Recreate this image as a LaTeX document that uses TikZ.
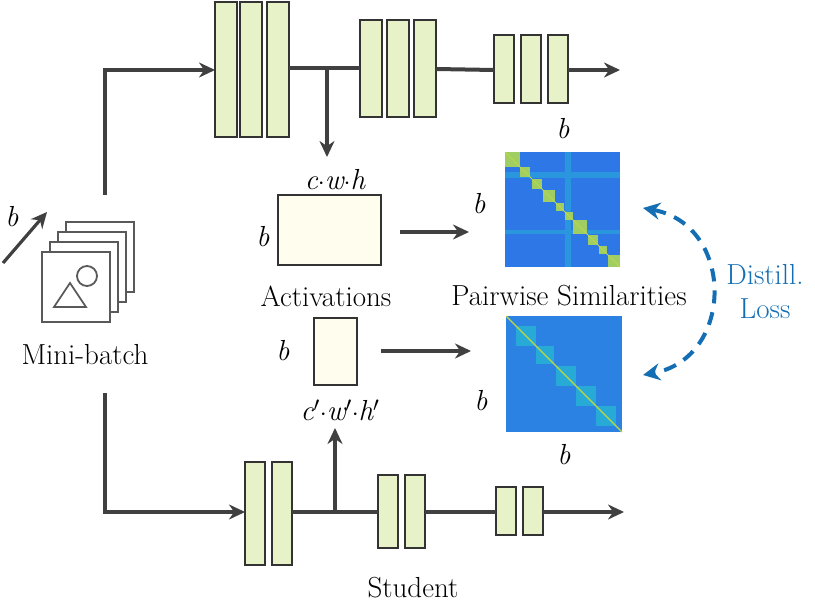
\documentclass[tikz,border=0pt]{standalone}
\usepackage{fontspec}
\usetikzlibrary{arrows.meta}
\definecolor{blk}{RGB}{232,242,200}
\definecolor{ivy}{RGB}{255,253,238}
\definecolor{hmb}{RGB}{45,120,230}
\definecolor{hmc}{RGB}{40,170,215}
\definecolor{hmy}{RGB}{190,215,70}
\definecolor{lossc}{RGB}{20,110,180}
\begin{document}
\begin{tikzpicture}[x=1pt,y=-1pt,
  flow/.style={draw=black!75,line width=4pt,-{Stealth[length=16pt,width=15pt]}},
  line/.style={draw=black!75,line width=4pt},
  layer/.style={draw=black!80,fill=blk,line width=2pt},
  act/.style={draw=black!80,fill=ivy,line width=1.6pt},
  lbl/.style={font=\fontsize{29}{34}\selectfont},
  mlbl/.style={font=\fontsize{29}{34}\selectfont\itshape},
  page/.style={draw=black!65,fill=white,line width=2pt}]
\useasboundingbox (0,0) rectangle (815,604);
% teacher
\foreach \x in {215,240,267} \draw[layer] (\x,2) rectangle ++(22,135);
\foreach \x in {360,387,414} \draw[layer] (\x,20) rectangle ++(22,97);
\foreach \x in {494,521,548} \draw[layer] (\x,35) rectangle ++(20,68);
\coordinate (t0) at (105,195); \coordinate (t1) at (105,70); \coordinate (t2) at (215,70);
\coordinate (t3) at (289,68); \coordinate (t4) at (360,68); \coordinate (tb) at (327,68);
\coordinate (t5) at (436,69); \coordinate (t6) at (494,70); \coordinate (t7) at (568,70); \coordinate (t8) at (620,70);
\draw[flow] (t0) -- (t1) -- (t2);
\draw[line] (t3) -- (t4); \draw[line] (t5) -- (t6);
\draw[flow] (t7) -- (t8);
\coordinate (tbe) at (327,157);
\draw[flow] (tb) -- (tbe);
% student
\foreach \x in {245,272} \draw[layer] (\x,462) rectangle ++(20,103);
\foreach \x in {378,405} \draw[layer] (\x,475) rectangle ++(20,73);
\foreach \x in {496,523} \draw[layer] (\x,487) rectangle ++(20,48);
\coordinate (s0) at (105,393); \coordinate (s1) at (105,512); \coordinate (s2) at (245,512);
\coordinate (s3) at (292,512); \coordinate (s4) at (378,512); \coordinate (sb) at (335,512);
\coordinate (s5) at (425,512); \coordinate (s6) at (496,512); \coordinate (s7) at (543,512); \coordinate (s8) at (624,512);
\draw[flow] (s0) -- (s1) -- (s2);
\draw[line] (s3) -- (s4); \draw[line] (s5) -- (s6);
\draw[flow] (s7) -- (s8);
\coordinate (sbe) at (335,428);
\draw[flow] (sb) -- (sbe);
% activations
\draw[act] (278,195) rectangle (381,265);
\draw[act] (314,318) rectangle (357,385);
\node[mlbl] (cwh) at (335,180) {c$\cdot$w$\cdot$h};
\node[mlbl] (ba) at (263,237) {b};
\node[lbl] (actl) at (326,296) {Activations};
\node[mlbl] (bs) at (283,351) {b};
\node[mlbl] (cwh2) at (340,410) {c$'{\cdot}$w$'{\cdot}$h$'$};
\coordinate (a1) at (400,232); \coordinate (a2) at (469,232);
\coordinate (a3) at (381,351); \coordinate (a4) at (471,351);
\draw[flow] (a1) -- (a2); \draw[flow] (a3) -- (a4);
% similarity matrices
\begin{scope}[shift={(505,152)}]
  \fill[hmb] (0,0) rectangle (115,115);
  \fill[hmc!60!hmb] (0,20) rectangle (115,26);
  \fill[hmc!60!hmb] (0,78) rectangle (115,82);
  \fill[hmc!60!hmb] (60,0) rectangle (66,115);
  \foreach \a/\s in {0/15,15/10,27/10,38/12,51/8,60/8,68/14,83/10,94/8,103/12}
    \fill[hmy!80!hmc] (\a,\a) rectangle ++(\s,\s);
  \draw[hmy,line width=1pt] (0,0) -- (115,115);
\end{scope}
\begin{scope}[shift={(506,316)}]
  \fill[hmb!80!hmc] (0,0) rectangle (116,116);
  \foreach \a/\s in {10/20,30/18,50/20,70/20,90/20}
    \fill[hmc] (\a,\a) rectangle ++(\s,\s);
  \draw[hmy,line width=1.2pt] (0,0) -- (116,116);
\end{scope}
\node[mlbl] (b1) at (563,129) {b};
\node[mlbl] (b2) at (479,204) {b};
\node[mlbl] (b3) at (481,401) {b};
\node[mlbl] (b4) at (564,455) {b};
\node[lbl] (pw) at (569,296) {Pairwise Similarities};
% distillation loss
\coordinate (l1) at (643,208); \coordinate (l2) at (643,375);
\draw[lossc,line width=4pt,dash pattern=on 13pt off 9pt,{Stealth[length=17pt,width=17pt]}-{Stealth[length=17pt,width=17pt]}]
  (l1) .. controls (735,225) and (735,358) .. (l2);
\node[lbl,text=lossc,align=center] (dl) at (765,292) {Distill.\\Loss};
% mini-batch
\foreach \i in {3,2,1} \draw[page] (42+8*\i,252-10*\i) rectangle ++(68,70);
\draw[page] (42,252) rectangle (110,322);
\draw[black!65,line width=1.8pt] (54,307) -- (86,307) -- (70,283) -- cycle;
\draw[black!65,line width=1.8pt] (87,276) circle (10);
\node[lbl] (mb) at (85,355) {Mini-batch};
\coordinate (m1) at (3,263); \coordinate (m2) at (47,212);
\draw[flow,line width=3.2pt] (m1) -- (m2);
\node[mlbl] (bm) at (12,217) {b};
\node[lbl] (st) at (413,588) {Student};
\end{tikzpicture}
\end{document}
